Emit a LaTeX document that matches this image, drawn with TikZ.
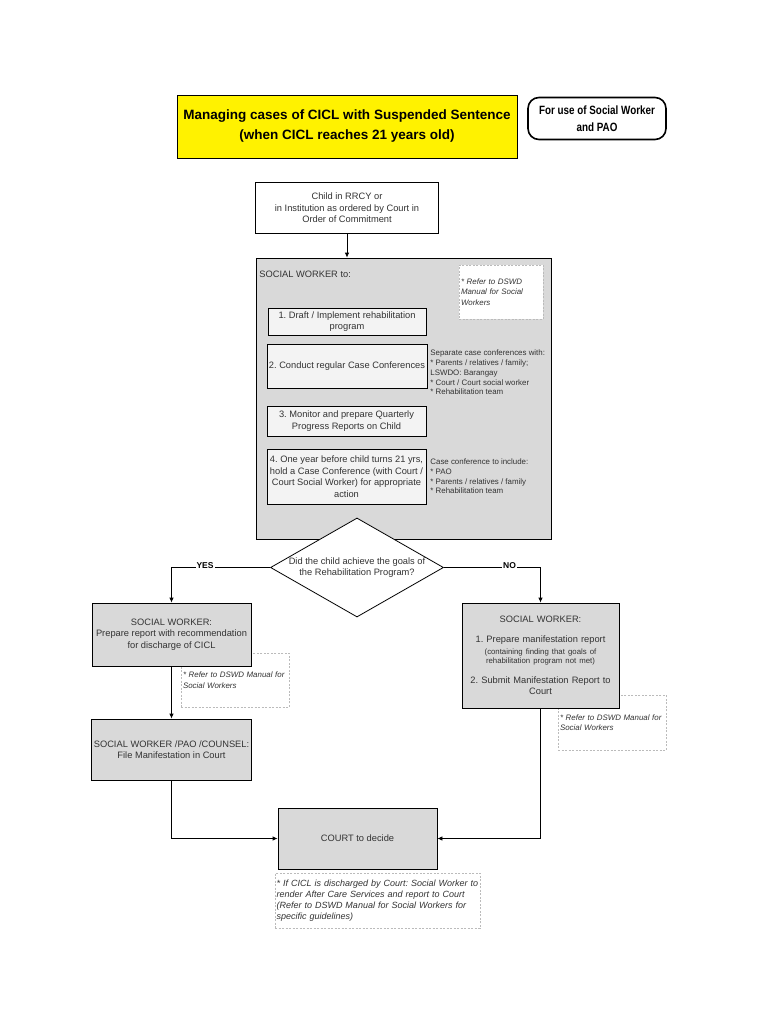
\documentclass[tikz,border=0pt]{standalone}
\usepackage{fontspec}
\setmainfont{Liberation Sans}
\newfontfamily\narrowfont[FakeStretch=0.82]{Liberation Sans}
\usetikzlibrary{shapes.geometric,arrows.meta}
\frenchspacing

\definecolor{boxgray}{HTML}{D9D9D9}
\definecolor{stepgray}{HTML}{F3F3F3}
\definecolor{notegray}{HTML}{BBBBBB}
\definecolor{inkgray}{HTML}{333333}

\tikzset{
box/.style={draw, line width=0.8pt, fill=boxgray, text=inkgray, align=center, inner sep=2pt, font=\fontsize{9.3}{11.5}\selectfont},
stepbox/.style={box, fill=stepgray},
notebox/.style={draw=notegray, dash pattern=on 2pt off 1.5pt, line width=0.5pt, fill=white, text=inkgray, align=left, inner xsep=2pt, font=\fontsize{7.9}{10.5}\selectfont\itshape},
sidetext/.style={text=inkgray, align=left, inner sep=0pt, font=\fontsize{7.9}{9.7}\selectfont},
lbl/.style={font=\bfseries\fontsize{8.5}{10}\selectfont, fill=white, inner sep=1pt, yshift=1.5pt},
}

\begin{document}
\begin{tikzpicture}[x=1pt, y=-1pt, >={Latex[length=5pt,width=4.5pt]}, line width=0.8pt]

\fill[white] (0,0) rectangle (768,1024);
\useasboundingbox (0,0) rectangle (768,1024);

% heading
\node[draw, fill=yellow, minimum width=340pt, minimum height=63pt, align=center, font=\bfseries\fontsize{13.5}{20}\selectfont](title) at(347,126.5) {Managing cases of CICL with Suspended Sentence\\(when CICL reaches 21 years old)};
\node[draw, line width=1.6pt, rounded corners=11pt, minimum width=138pt, minimum height=42pt, align=center, font=\narrowfont\bfseries\fontsize{12}{16.5}\selectfont](use) at(597,118.5) {For use of Social Worker\\and PAO};

\node[stepbox, fill=white, minimum width=183pt, minimum height=51pt](child) at(347,208) {Child in RRCY or\\in Institution as ordered by Court in\\Order of Commitment};

% social worker block
\node[box, minimum width=295pt, minimum height=281pt](sw) at(403.5,398.5) {};
\node[anchor=west, inner sep=0pt, text=inkgray, font=\fontsize{9.3}{11.5}\selectfont](swhead) at(259,274) {SOCIAL WORKER to:};
\node[notebox, minimum width=84pt, minimum height=54pt, text width=80pt](ref) at(501,292) {* Refer to DSWD\\Manual for Social\\Workers};

\node[stepbox, minimum width=158pt, minimum height=27pt](s1) at(347,321.5) {1. Draft / Implement rehabilitation\\program};
\node[stepbox, minimum width=158pt, minimum height=44pt](s2) at(347,366) {2. Conduct regular Case Conferences};
\node[stepbox, minimum width=159pt, minimum height=30pt](s3) at(346.5,421) {3. Monitor and prepare Quarterly\\Progress Reports on Child};
\node[stepbox, minimum width=159pt, minimum height=55pt](s4) at(346.5,476.5) {4. One year before child turns 21 yrs,\\hold a Case Conference (with Court /\\Court Social Worker) for appropriate\\action};

\node[sidetext, anchor=west](with) at(430,372.5) {Separate case conferences with:\\* Parents / relatives / family;\\LSWDO: Barangay\\* Court / Court social worker\\* Rehabilitation team};
\node[sidetext, anchor=west](incl) at(430,476.5) {Case conference to include:\\* PAO\\* Parents / relatives / family\\* Rehabilitation team};

\node[diamond, draw, fill=white, aspect=1.75, inner sep=0pt, minimum width=173pt, minimum height=99pt, text=inkgray, align=center, font=\fontsize{9.3}{11}\selectfont](goal) at(357,567.5) {Did the child achieve the goals of\\the Rehabilitation Program?};

% yes side
\node[notebox, minimum width=108pt, minimum height=54pt, text width=104pt](refl) at(235,680) {* Refer to DSWD Manual for\\Social Workers};
\node[box, minimum width=159pt, minimum height=63pt](disc) at(171.5,634.5) {SOCIAL WORKER:\\Prepare report with recommendation\\for discharge of CICL};
\node[box, minimum width=159pt, minimum height=61pt](file) at(171.5,749.5) {SOCIAL WORKER /PAO /COUNSEL:\\File Manifestation in Court};

% no side
\node[notebox, minimum width=108pt, minimum height=55pt, text width=104pt](refr) at(612,722.5) {* Refer to DSWD Manual for\\Social Workers};
\node[box, minimum width=157pt, minimum height=105pt, text width=152pt](mani) at(540.5,655.5) {SOCIAL WORKER:\par\vspace{9pt}
1. Prepare manifestation report\par\vspace{3pt}
{\fontsize{7.8}{9}\selectfont (containing finding that goals of\\rehabilitation program not met)\par}\vspace{8pt}
2. Submit Manifestation Report to\\Court};

\node[box, minimum width=159pt, minimum height=61pt](court) at(357.5,838.5) {COURT to decide};
\node[notebox, minimum width=205pt, minimum height=55pt, text width=202pt, inner xsep=1.5pt, font=\fontsize{9}{11}\selectfont\itshape](after) at(377.5,900.5) {* If CICL is discharged by Court: Social Worker to\\render After Care Services and report to Court\\(Refer to DSWD Manual for Social Workers for\\specific guidelines)};

\draw[->] (child.south) -- (child.south |- sw.north);

\draw[->]
(goal.west) -| node[lbl, pos=0.33]{YES}
(disc.north)
;
\draw[->]
(goal.east) -| node[lbl, pos=0.34]{NO}
(mani.north)
;

\draw[->] (disc) -- (file);
\draw[->] (file.south) |- (court.west);
\draw[->] (mani.south) |- (court.east);

\end{tikzpicture}
\end{document}
